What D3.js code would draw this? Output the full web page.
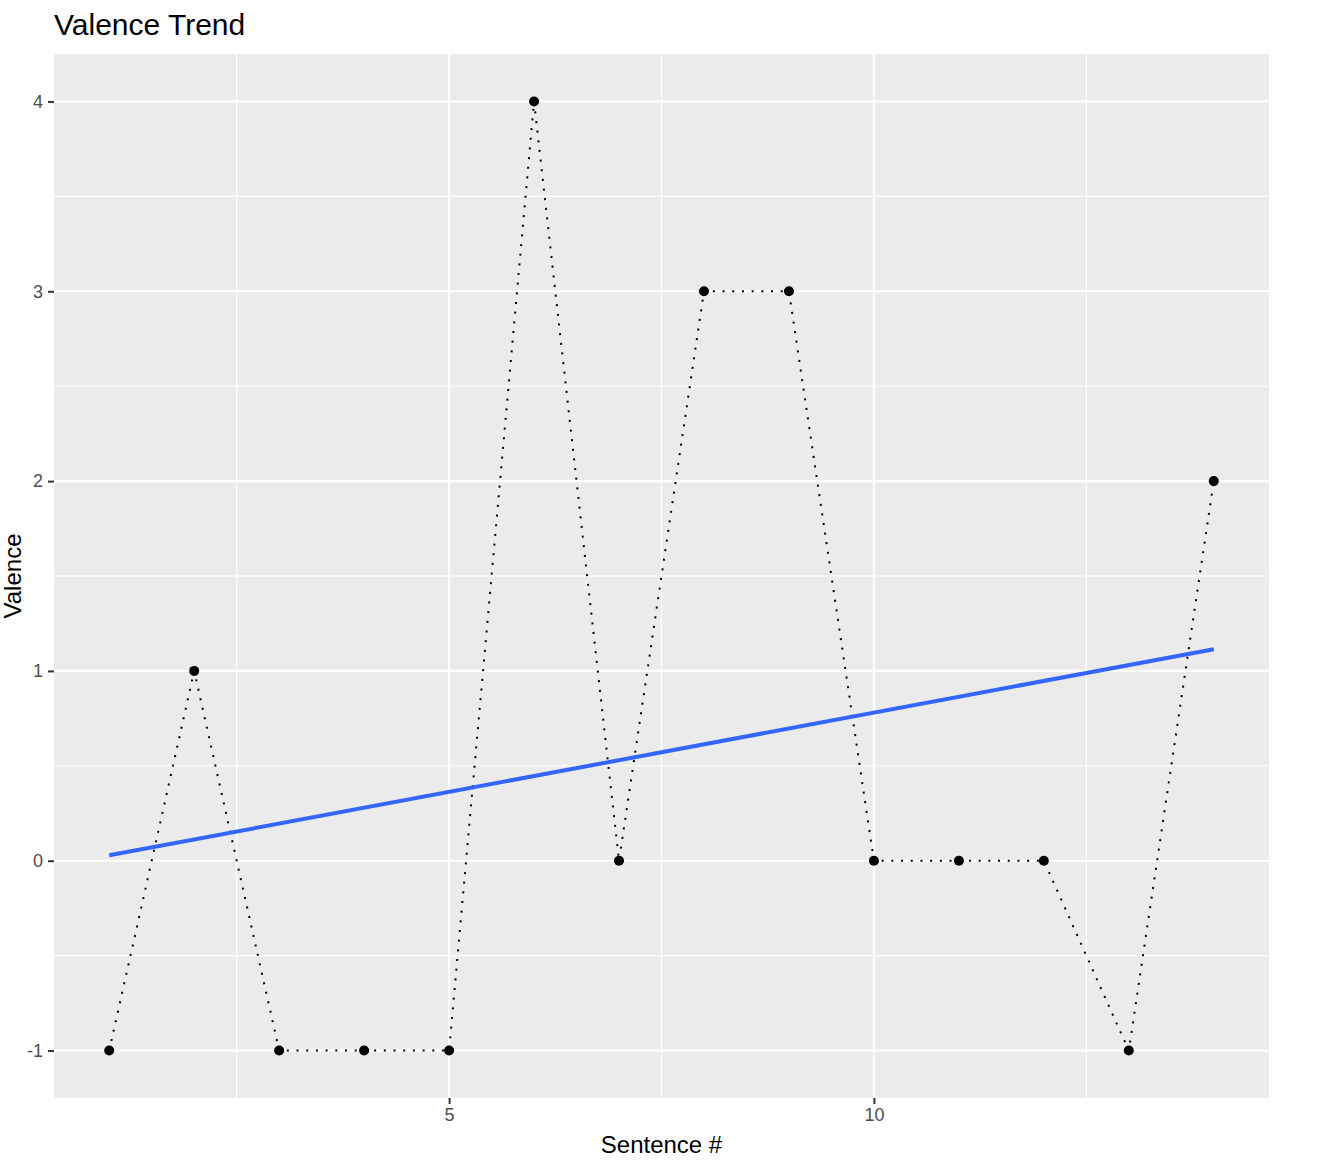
<!DOCTYPE html>
<html lang="en">
<head>
    <meta charset="UTF-8">
    <title>Valence Trend</title>
    <script src="https://d3js.org/d3.v7.min.js"></script>
    <style>
        body { margin: 0; background: #fff; }
        text { font-family: "Liberation Sans", Arial, sans-serif; }
        .tick-label { font-size: 18px; fill: #4d4d4d; }
        .axis-title { font-size: 24px; fill: #000; }
        .plot-title { font-size: 30px; fill: #000; }
    </style>
</head>
<body>
    <div id="chart"></div>
    <script>
        // Data
        const sentences = [1, 2, 3, 4, 5, 6, 7, 8, 9, 10, 11, 12, 13, 14];
        const valence = [-1, 1, -1, -1, -1, 4, 0, 3, 3, 0, 0, 0, -1, 2];
        const xTicks = [5, 10];
        const xMinor = [2.5, 7.5, 12.5];
        const yTicks = [-1, 0, 1, 2, 3, 4];
        const yMinor = [-0.5, 0.5, 1.5, 2.5, 3.5];

        const width = 1324, height = 1166;
        const panel = { left: 54, top: 54, right: 1269, bottom: 1098 };

        const data = sentences.map((s, i) => ({ x: s, y: valence[i] }));

        // ggplot-style 5% expansion
        const xExt = d3.extent(sentences), yExt = d3.extent(valence);
        const xPad = (xExt[1] - xExt[0]) * 0.05, yPad = (yExt[1] - yExt[0]) * 0.05;

        const x = d3.scaleLinear()
            .domain([xExt[0] - xPad, xExt[1] + xPad])
            .range([panel.left, panel.right]);
        const y = d3.scaleLinear()
            .domain([yExt[0] - yPad, yExt[1] + yPad])
            .range([panel.bottom, panel.top]);

        // linear fit (geom_smooth method = "lm")
        const mx = d3.mean(sentences), my = d3.mean(valence);
        const sxy = d3.sum(data, d => (d.x - mx) * (d.y - my));
        const sxx = d3.sum(data, d => (d.x - mx) ** 2);
        const slope = sxy / sxx, intercept = my - slope * mx;
        const fit = xExt.map(v => ({ x: v, y: intercept + slope * v }));

        const svg = d3.select("#chart").append("svg")
            .attr("width", width)
            .attr("height", height);

        svg.append("rect")
            .attr("x", panel.left).attr("y", panel.top)
            .attr("width", panel.right - panel.left)
            .attr("height", panel.bottom - panel.top)
            .attr("fill", "#ebebeb");

        const grid = svg.append("g");
        grid.selectAll(".ymin").data(yMinor).enter().append("line")
            .attr("x1", panel.left).attr("x2", panel.right)
            .attr("y1", d => y(d)).attr("y2", d => y(d))
            .attr("stroke", "#fff").attr("stroke-width", 1.1);
        grid.selectAll(".xmin").data(xMinor).enter().append("line")
            .attr("y1", panel.top).attr("y2", panel.bottom)
            .attr("x1", d => x(d)).attr("x2", d => x(d))
            .attr("stroke", "#fff").attr("stroke-width", 1.1);
        grid.selectAll(".ymaj").data(yTicks).enter().append("line")
            .attr("x1", panel.left).attr("x2", panel.right)
            .attr("y1", d => y(d)).attr("y2", d => y(d))
            .attr("stroke", "#fff").attr("stroke-width", 2.2);
        grid.selectAll(".xmaj").data(xTicks).enter().append("line")
            .attr("y1", panel.top).attr("y2", panel.bottom)
            .attr("x1", d => x(d)).attr("x2", d => x(d))
            .attr("stroke", "#fff").attr("stroke-width", 2.2);

        // axes
        const fmt = d => String(d);
        const xAxis = svg.append("g")
            .attr("transform", `translate(0,${panel.bottom})`)
            .call(d3.axisBottom(x).tickValues(xTicks).tickFormat(fmt).tickSize(6).tickPadding(4));
        const yAxis = svg.append("g")
            .attr("transform", `translate(${panel.left},0)`)
            .call(d3.axisLeft(y).tickValues(yTicks).tickFormat(fmt).tickSize(6).tickPadding(5));
        [xAxis, yAxis].forEach(a => {
            a.select(".domain").remove();
            a.selectAll(".tick line").attr("stroke", "#333").attr("stroke-width", 2);
            a.selectAll(".tick text").attr("class", "tick-label").attr("font-family", null).attr("font-size", null);
        });

        // dotted connecting line
        const line = d3.line().x(d => x(d.x)).y(d => y(d.y));
        svg.append("path")
            .datum(data)
            .attr("d", line)
            .attr("fill", "none")
            .attr("stroke", "#000")
            .attr("stroke-width", 2)
            .attr("stroke-dasharray", "2,7.7");

        // regression line
        svg.append("path")
            .datum(fit)
            .attr("d", line)
            .attr("fill", "none")
            .attr("stroke", "#3366ff")
            .attr("stroke-width", 4);

        // points
        svg.selectAll(".pt").data(data).enter().append("circle")
            .attr("cx", d => x(d.x))
            .attr("cy", d => y(d.y))
            .attr("r", 5)
            .attr("fill", "#000");

        // titles
        svg.append("text")
            .attr("class", "plot-title")
            .attr("x", panel.left)
            .attr("y", 35)
            .text("Valence Trend");
        svg.append("text")
            .attr("class", "axis-title")
            .attr("x", (panel.left + panel.right) / 2)
            .attr("y", 1153)
            .attr("text-anchor", "middle")
            .text("Sentence #");
        svg.append("text")
            .attr("class", "axis-title")
            .attr("transform", `translate(21,${(panel.top + panel.bottom) / 2}) rotate(-90)`)
            .attr("text-anchor", "middle")
            .text("Valence");
    </script>
</body>
</html>
